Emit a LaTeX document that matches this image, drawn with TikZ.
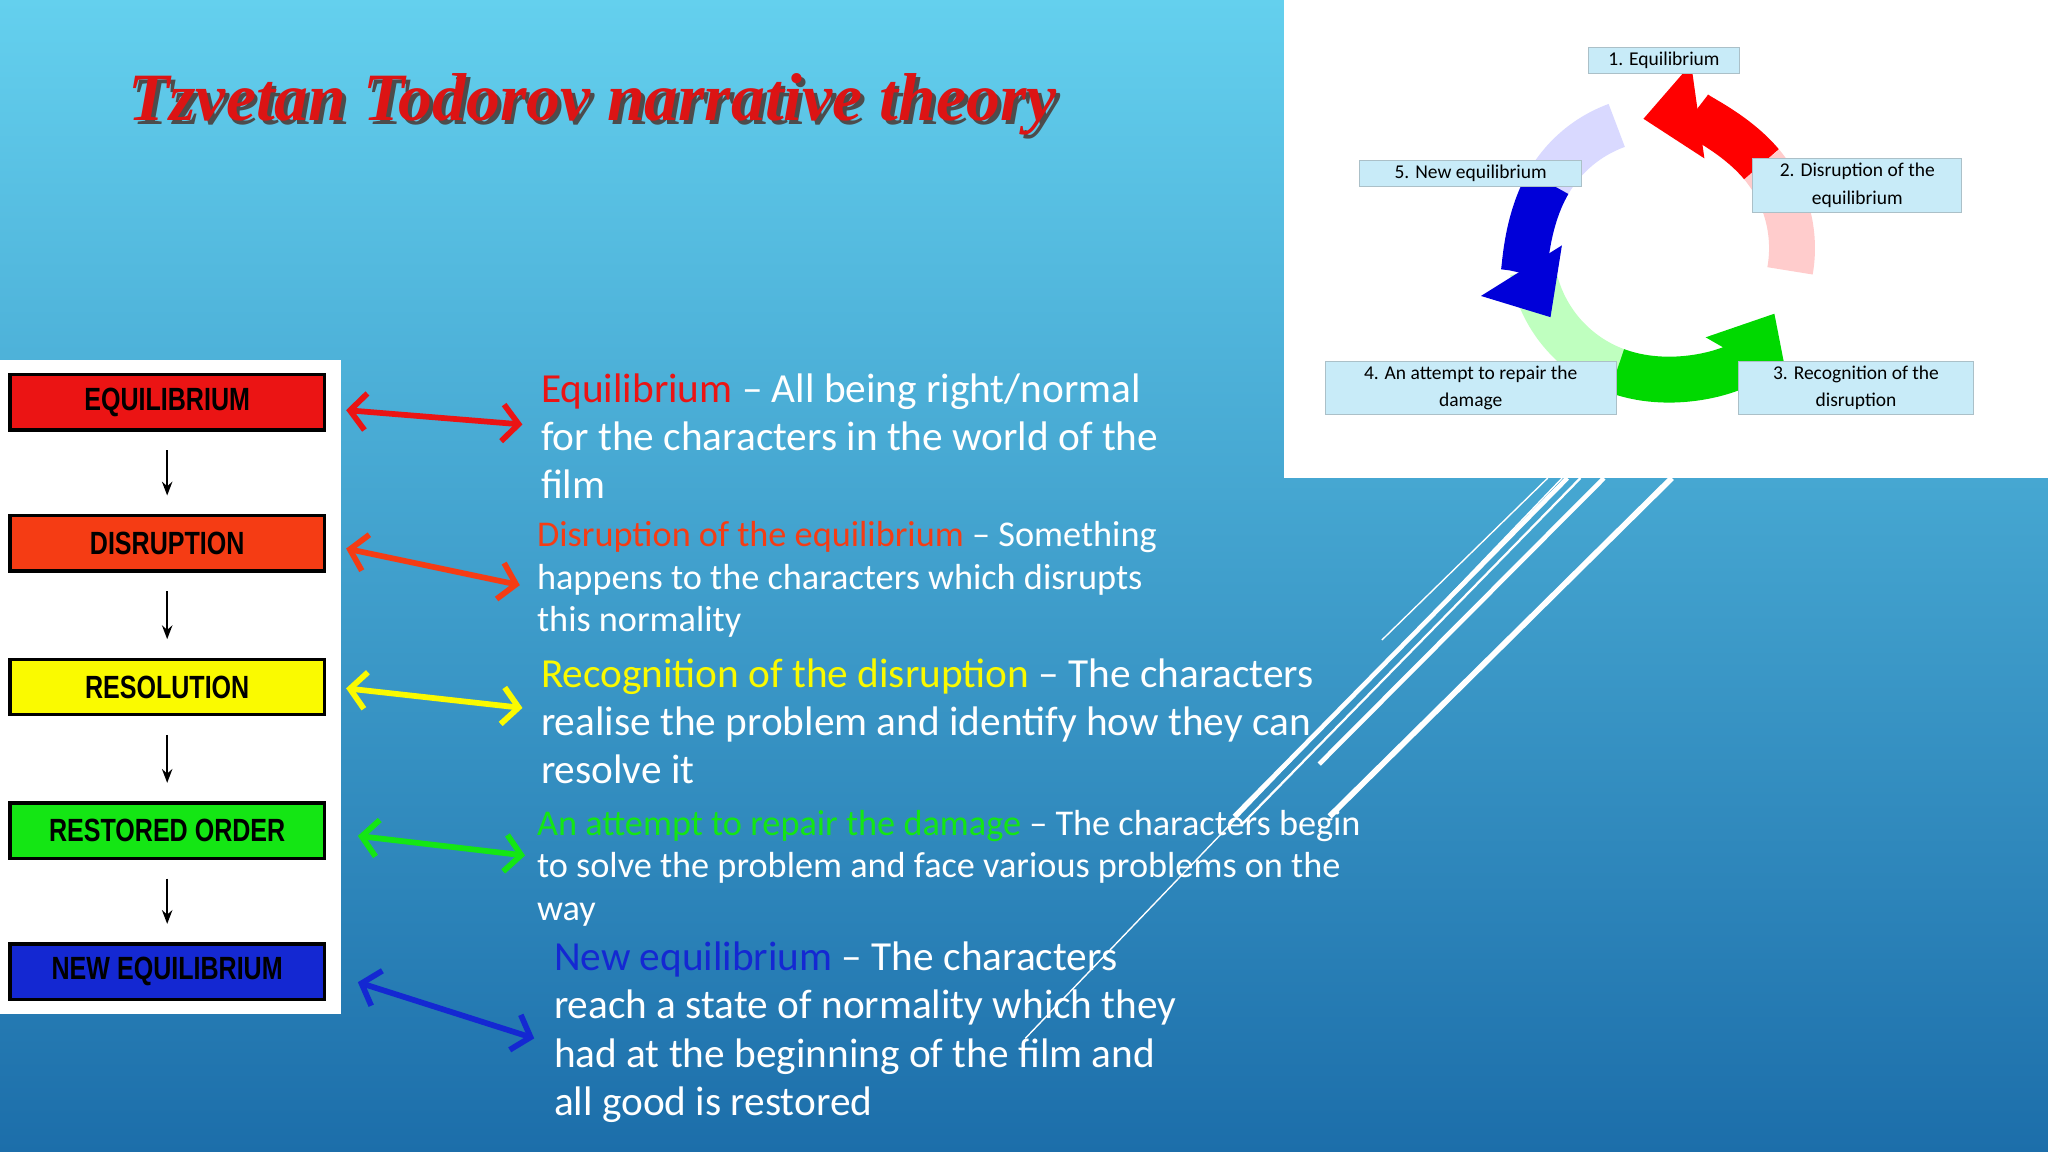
\documentclass[tikz,border=0pt]{standalone}
\usepackage{fontspec}
\setmainfont{Carlito}
\newfontfamily\boxfont[FakeStretch=0.78]{Liberation Sans}
\usetikzlibrary{arrows.meta}
\definecolor{myred}{RGB}{235,20,20}
\definecolor{myora}{RGB}{245,60,20}
\definecolor{myyel}{RGB}{250,250,0}
\definecolor{mygrn}{RGB}{20,230,20}
\definecolor{myblu}{RGB}{20,40,210}
\definecolor{cbox}{RGB}{200,235,248}
\tikzset{
 sbox/.style={draw=black,line width=1.5pt,minimum width=4.82cm,minimum height=0.85cm,font=\boxfont\bfseries\fontsize{14}{14}\selectfont},
 dn/.style={-{Stealth[length=6pt]},line width=1pt,shorten <=8pt,shorten >=8pt},
 dbl/.style={{Straight Barb[length=7pt,width=16pt]}-{Straight Barb[length=7pt,width=16pt]},line width=2.5pt},
 txt/.style={anchor=north west,align=left,text=white},
 big/.style={font=\fontsize{18}{21}\selectfont},
 sml/.style={font=\fontsize{15.8}{18.6}\selectfont},
 cb/.style={draw=cbox!60!gray,fill=cbox,font=\fontsize{8.5}{12}\selectfont,align=center,inner sep=2pt},
 wl/.style={white,line width=1pt}
}
\begin{document}
\begin{tikzpicture}[x=0.02cm,y=-0.02cm]
\shade[top color={rgb,255:red,100;green,208;blue,238},bottom color={rgb,255:red,28;green,110;blue,170}] (0,0) rectangle (1568,882);
\useasboundingbox (0,0) rectangle (1568,882);
% diagonal lines
\draw[wl,line width=0.6pt] (1185,366) -- (1058,490);
\draw[wl,line width=2pt] (1200,366) -- (945,625);
\draw[wl] (1210,366) -- (950,632);
\draw[wl,line width=2pt] (1228,366) -- (1010,585);
\draw[wl,line width=2.5pt] (1280,366) -- (1018,625);
\draw[wl,line width=0.6pt] (1196,366) -- (785,795);
% title
\node[anchor=west,text=black!70,font=\fontspec{Liberation Serif}\itshape\bfseries\fontsize{29.5}{30}\selectfont] (tsh) at (95,83) {Tzvetan Todorov narrative theory};
\node[anchor=west,text={rgb,255:red,220;green,20;blue,20},font=\fontspec{Liberation Serif}\itshape\bfseries\fontsize{29.5}{30}\selectfont] (tt) at (92,80) {Tzvetan Todorov narrative theory};
% left panel
\fill[white] (0,276) rectangle (261,776);
\node[sbox,fill=myred] (b1) at (128,308) {EQUILIBRIUM};
\node[sbox,fill=myora] (b2) at (128,416) {DISRUPTION};
\node[sbox,fill=myyel] (b3) at (128,526) {RESOLUTION};
\node[sbox,fill=mygrn] (b4) at (128,636) {RESTORED ORDER};
\node[sbox,fill=myblu] (b5) at (128,744) {NEW EQUILIBRIUM};
\draw[dn] (b1) -- (b2);
\draw[dn] (b2) -- (b3);
\draw[dn] (b3) -- (b4);
\draw[dn] (b4) -- (b5);
% texts
\node[txt,big] (t1) at (408,280) {\textcolor{myred}{Equilibrium} -- All being right/normal\\for the characters in the world of the\\film};
\node[txt,sml] (t2) at (405,393) {\textcolor{myora}{Disruption of the equilibrium} -- Something\\happens to the characters which disrupts\\this normality};
\node[txt,big] (t3) at (408,498) {\textcolor{myyel}{Recognition of the disruption} -- The characters\\realise the problem and identify how they can\\resolve it};
\node[txt,sml] (t4) at (405,614) {\textcolor{mygrn}{An attempt to repair the damage} -- The characters begin\\to solve the problem and face various problems on the\\way};
\node[txt,big] (t5) at (418,715) {\textcolor{myblu}{New equilibrium} -- The characters\\reach a state of normality which they\\had at the beginning of the film and\\all good is restored};
\coordinate (a1l) at (265,314); \coordinate (a1r) at (400,325);
\coordinate (a2l) at (265,420); \coordinate (a2r) at (398,448);
\coordinate (a3l) at (265,527); \coordinate (a3r) at (400,542);
\coordinate (a4l) at (274,640); \coordinate (a4r) at (402,655);
\coordinate (a5l) at (274,752); \coordinate (a5r) at (409,795);
\draw[dbl,myred] (a1l) -- (a1r);
\draw[dbl,myora] (a2l) -- (a2r);
\draw[dbl,myyel] (a3l) -- (a3r);
\draw[dbl,mygrn] (a4l) -- (a4r);
\draw[dbl,myblu] (a5l) -- (a5r);
% right panel
\fill[white] (983,0) rectangle (1568,366);
\coordinate (c) at (1272,190);
\draw[line width=20pt,red!20] ([shift={(-40:100)}]c) arc[start angle=-40,end angle=10,radius=100];
\draw[line width=20pt,green!25] ([shift={(-190:100)}]c) arc[start angle=-190,end angle=-250,radius=100];
\draw[line width=20pt,blue!15] ([shift={(-110:100)}]c) arc[start angle=-110,end angle=-155,radius=100];
\draw[line width=20pt,red,-{Triangle[length=24pt,width=40pt]}] ([shift={(-40:100)}]c) arc[start angle=-40,end angle=-98,radius=100];
\draw[line width=20pt,green!85!black,-{Triangle[length=24pt,width=40pt]}] ([shift={(-250:100)}]c) arc[start angle=-250,end angle=-330,radius=100];
\draw[line width=20pt,blue!85!black,-{Triangle[length=24pt,width=40pt]}] ([shift={(-150:100)}]c) arc[start angle=-150,end angle=-212,radius=100];
\node[cb,minimum width=2.3cm] (e1) at (1274,46) {1. Equilibrium};
\node[cb,minimum width=3.2cm] (e2) at (1422,142) {2. Disruption of the\\equilibrium};
\node[cb,minimum width=3.6cm] (e3) at (1421,297) {3. Recognition of the\\disruption};
\node[cb,minimum width=4.45cm] (e4) at (1126,297) {4. An attempt to repair the\\damage};
\node[cb,minimum width=3.4cm] (e5) at (1126,133) {5. New equilibrium};
\end{tikzpicture}
\end{document}
